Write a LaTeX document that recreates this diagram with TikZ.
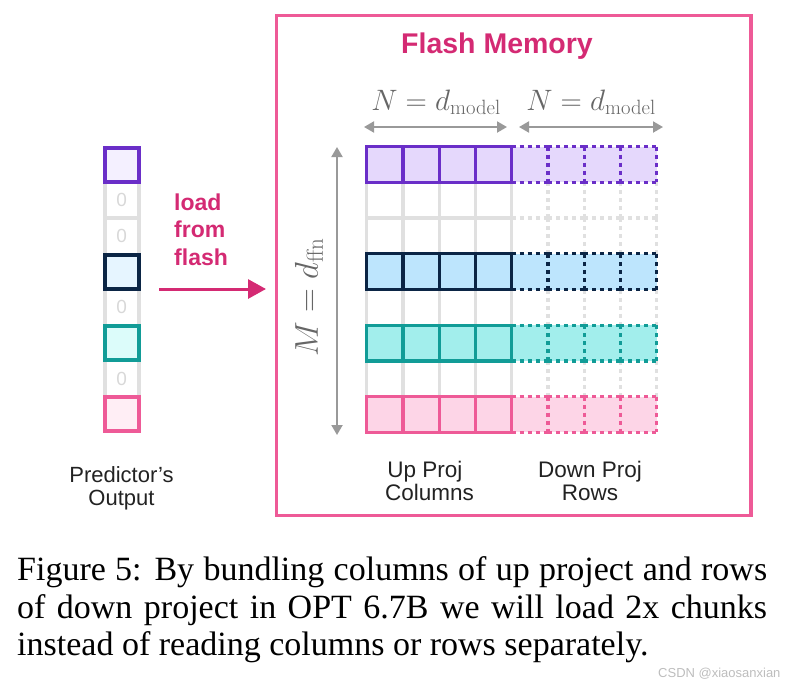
\RequirePackage{fix-cm}
\documentclass[tikz,border=0pt]{standalone}
\usepackage{graphicx}
\usepackage[no-math]{fontspec}
\setmainfont{Liberation Serif}
\setsansfont{Liberation Sans}
\usetikzlibrary{arrows.meta}
\definecolor{boxpink}{HTML}{EE5A97}
\definecolor{titlepink}{HTML}{D42A73}
\definecolor{purS}{HTML}{6A2EC8}\definecolor{purF}{HTML}{E5D8FC}\definecolor{purV}{HTML}{F4F0FF}
\definecolor{navS}{HTML}{0B2545}\definecolor{navF}{HTML}{BDE5FD}\definecolor{navV}{HTML}{E6F5FF}
\definecolor{tealS}{HTML}{119C97}\definecolor{tealF}{HTML}{A2EEEC}\definecolor{tealV}{HTML}{DCFCFA}
\definecolor{pinkS}{HTML}{EE5A97}\definecolor{pinkF}{HTML}{FDD5E7}\definecolor{pinkV}{HTML}{FFEEF5}
\definecolor{gridgrey}{HTML}{E0E0E0}
\definecolor{zerogrey}{HTML}{D8D8D8}
\definecolor{dimgrey}{HTML}{999999}
\definecolor{dimtext}{HTML}{666666}
\definecolor{labeltext}{HTML}{222222}
\definecolor{wmgrey}{HTML}{BDBDBD}
\begin{document}
\begin{tikzpicture}[x=1pt,y=-1pt,
  gridline/.style={draw=gridgrey, line width=3.3pt},
  celldash/.style={dash pattern=on 4pt off 4pt},
  cellline/.style={line width=3.3pt},
  veccell/.style={rectangle, minimum width=34.2pt, minimum height=34pt, inner sep=0pt, line width=4pt},
  zero/.style={text=zerogrey, font=\fontsize{19}{22}\selectfont\sffamily, inner sep=0pt},
  dimarrow/.style={draw=dimgrey, line width=2pt, {Triangle[length=10pt,width=11pt]}-{Triangle[length=10pt,width=11pt]}},
  dimlabel/.style={text=dimtext, font=\fontsize{29.5}{32}\selectfont, inner sep=0pt},
  lbl/.style={text=labeltext, font=\fontsize{22.5}{26}\selectfont\sffamily, inner sep=0pt, anchor=base},
  loadtxt/.style={text=titlepink, font=\fontsize{23}{27}\selectfont\sffamily\bfseries, inner sep=0pt, anchor=base west},
  loadarrow/.style={draw=titlepink, line width=3pt, -{Triangle[length=18pt,width=19pt]}},
  captxt/.style={font=\fontsize{34}{40}\selectfont\rmfamily, inner sep=0pt, anchor=base west}
]
\useasboundingbox (0,0) rectangle (794,686);
\def\gxo{366.7}\def\gw{36.25}\def\gyo{146.7}\def\gh{35.7}

% Flash memory box
\node[draw=boxpink, line width=3.5pt, minimum width=474.5pt, minimum height=500pt, inner sep=0pt] (flash) at (513.75,265.5) {};
\node[text=titlepink, font=\fontsize{28.5}{30}\selectfont\sffamily\bfseries, anchor=base, inner sep=0pt] (title) at (497,53) {Flash Memory};

% grey grid, left half (solid)
\foreach \i in {0,...,4}
  \draw[gridline] ({\gxo+\gw*\i},\gyo) -- ({\gxo+\gw*\i},{\gyo+8*\gh});
\foreach \j in {1,...,7}
  \draw[gridline] (\gxo,{\gyo+\gh*\j}) -- ({\gxo+4*\gw},{\gyo+\gh*\j});
% grey grid, right half (dashed)
\foreach \i in {5,...,8}
  \foreach \j in {0,...,7}
    \draw[gridline,celldash] ({\gxo+\gw*\i},{\gyo+\gh*\j}) -- ++(0,\gh);
\foreach \j in {1,...,7}
  \foreach \i in {4,...,7}
    \draw[gridline,celldash] ({\gxo+\gw*\i},{\gyo+\gh*\j}) -- ++(\gw,0);

% coloured rows
\foreach \r/\cc in {0/pur,3/nav,5/teal,7/pink}{
  \fill[\cc F] (\gxo,{\gyo+\gh*\r}) rectangle ++({8*\gw},\gh);
  \foreach \i in {5,...,8}
    \draw[\cc S,cellline,celldash] ({\gxo+\gw*\i},{\gyo+\gh*\r}) -- ++(0,\gh);
  \foreach \i in {4,...,7}{
    \draw[\cc S,cellline,celldash] ({\gxo+\gw*\i},{\gyo+\gh*\r}) -- ++(\gw,0);
    \draw[\cc S,cellline,celldash] ({\gxo+\gw*\i},{\gyo+\gh*(\r+1)}) -- ++(\gw,0);
  }
  \draw[\cc S,cellline] (\gxo,{\gyo+\gh*\r}) rectangle ++({4*\gw},\gh);
  \foreach \i in {1,2,3}
    \draw[\cc S,cellline] ({\gxo+\gw*\i},{\gyo+\gh*\r}) -- ++(0,\gh);
}

% dimension arrows
\coordinate (a1) at (364,127); \coordinate (a2) at (507,127);
\coordinate (b1) at (519,127); \coordinate (b2) at (663,127);
\coordinate (c1) at (337,147); \coordinate (c2) at (337,435);
\draw[dimarrow] (a1) -- (a2);
\draw[dimarrow] (b1) -- (b2);
\draw[dimarrow] (c1) -- (c2);
\node[dimlabel, anchor=base] (nup) at (436,110) {$N = d_{\mathrm{model}}$};
\node[dimlabel, anchor=base] (ndown) at (591,110) {$N = d_{\mathrm{model}}$};
\node[dimlabel, rotate=90, font=\fontsize{33}{36}\selectfont] (mlab) at (309,297) {$M = d_{\mathrm{ffn}}$};

% labels under grid
\node[lbl] (up1) at (425,477) {Up Proj};
\node[lbl] (up2) at (429.5,500) {Columns};
\node[lbl] (dn1) at (590,477) {Down Proj};
\node[lbl] (dn2) at (590,500) {Rows};

% predictor vector
\draw[gridline, line width=4pt] (104.5,{\gyo+\gh}) -- (104.5,{\gyo+7*\gh});
\draw[gridline, line width=4pt] (138.7,{\gyo+\gh}) -- (138.7,{\gyo+7*\gh});
\draw[gridline, line width=4pt] (104.5,{\gyo+2*\gh}) -- (138.7,{\gyo+2*\gh});
\node[veccell, draw=purS, fill=purV] (v0) at (121.6,{\gyo+0.5*\gh}) {};
\node[veccell, draw=navS, fill=navV] (v3) at (121.6,{\gyo+3.5*\gh}) {};
\node[veccell, draw=tealS, fill=tealV] (v5) at (121.6,{\gyo+5.5*\gh}) {};
\node[veccell, draw=pinkS, fill=pinkV] (v7) at (121.6,{\gyo+7.5*\gh}) {};
\node[zero] (z1) at (121.6,{\gyo+1.5*\gh}) {0};
\node[zero] (z2) at (121.6,{\gyo+2.5*\gh}) {0};
\node[zero] (z4) at (121.6,{\gyo+4.5*\gh}) {0};
\node[zero] (z6) at (121.6,{\gyo+6.5*\gh}) {0};
\node[lbl, font=\fontsize{22}{26}\selectfont\sffamily] (pred1) at (121.5,482) {Predictor’s};
\node[lbl, font=\fontsize{22}{26}\selectfont\sffamily] (pred2) at (121.5,505) {Output};

% load from flash
\node[loadtxt] (ld1) at (174,210) {load};
\node[loadtxt] (ld2) at (174,237) {from};
\node[loadtxt] (ld3) at (174,265) {flash};
\coordinate (ls) at (159,289);
\coordinate (le) at (266,289);
\draw[loadarrow] (ls) -- (le);

% caption
\node[captxt] (cap1) at (17,580) {\makebox[750pt][s]{Figure 5: By bundling columns of up project and rows}};
\node[captxt] (cap2) at (17,618) {\makebox[750pt][s]{of down project in OPT 6.7B we will load 2x chunks}};
\node[captxt] (cap3) at (17,655) {instead of reading columns or rows separately.};
\node[anchor=base west, inner sep=0pt, text=wmgrey, font=\fontsize{13}{15}\selectfont\sffamily] (wm) at (658,677) {CSDN @xiaosanxian};
\end{tikzpicture}
\end{document}
